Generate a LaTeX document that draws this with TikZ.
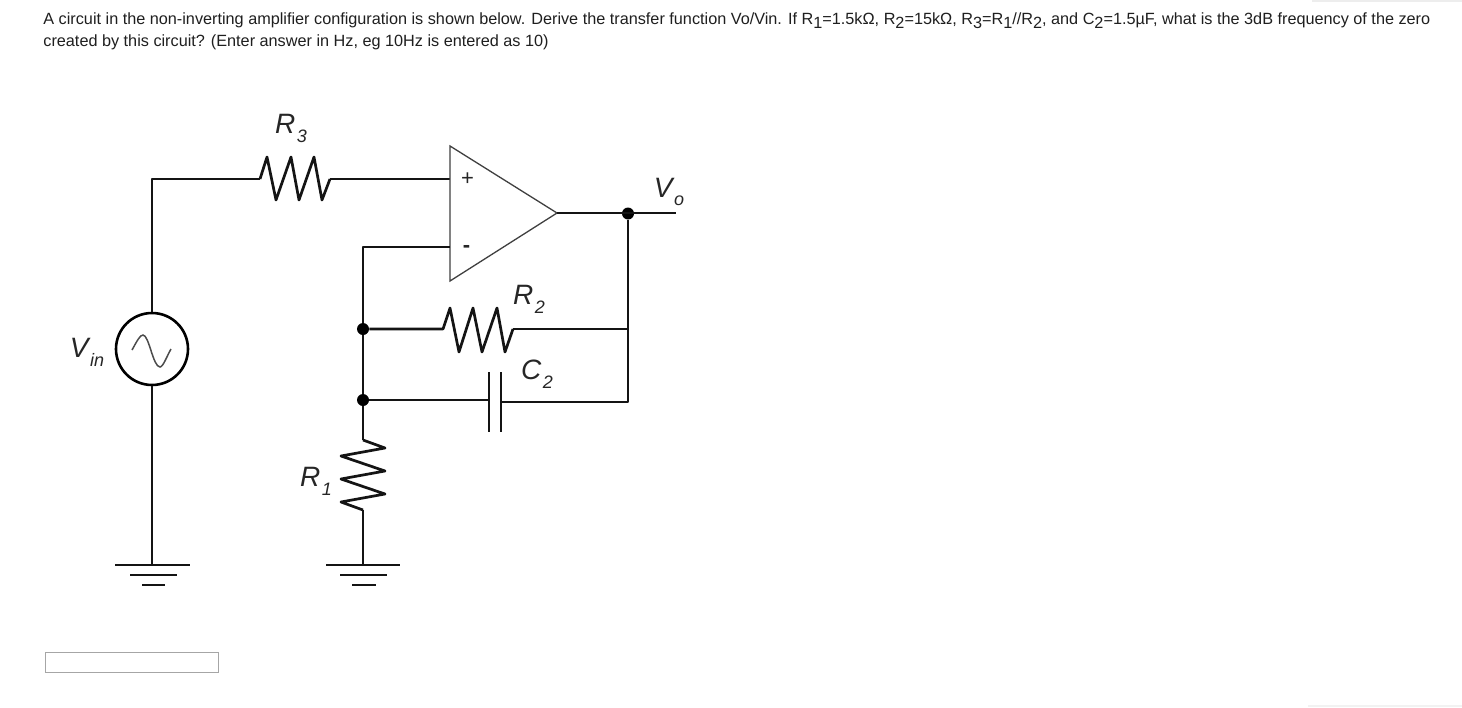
\documentclass[tikz,border=0pt]{standalone}
\usepackage{fontspec}
\setmainfont{Liberation Sans}
\newcommand{\circlbl}[3][-0.32em]{{\fontsize{14}{14}\selectfont\itshape #2\kern0.06em\raisebox{#1}{\fontsize{9}{9}\selectfont #3}}}
\newcommand{\qs}[1]{\raisebox{-0.25em}{#1}}
\tikzset{
  wire/.style={line width=1.35pt,color=black!92,line join=round},
  thin wire/.style={line width=0.65pt,color=black!75,line join=miter},
  junction/.style={circle,fill=black,inner sep=0pt,minimum size=6pt},
  para/.style={anchor=base west,inner sep=0pt,font=\fontsize{8.12}{9}\selectfont,text=black!88},
  lbl/.style={inner sep=0pt,text=black!85},
  gnd/.style={line width=1.2pt,color=black!92},
}
\begin{document}
\begin{tikzpicture}[x=0.5pt,y=-0.5pt]
\path[use as bounding box,fill=white] (0,0) rectangle (1462,707);
% page edge shadows
\fill[black!7] (1312,0) rectangle (1462,1.5);
\fill[black!5] (1308,705) rectangle (1462,707);
% question text
\node[para] (line1) at (43,24) {A circuit in the non-inverting amplifier configuration is shown below. Derive the transfer function Vo/Vin. If R\qs{1}=1.5kΩ, R\qs{2}=15kΩ, R\qs{3}=R\qs{1}//R\qs{2}, and C\qs{2}=1.5µF, what is the 3dB frequency of the zero};
\node[para] (line2) at (43,46.5) {created by this circuit? (Enter answer in Hz, eg 10Hz is entered as 10)};
% answer box
\node[draw=black!35,line width=0.5pt,fill=white,minimum width=86.5pt,minimum height=10pt,inner sep=0pt] (answer) at (131.5,662) {};
% key points
\coordinate (corner) at (152,179);
\node[circle,draw=black,line width=1.3pt,minimum size=36pt,inner sep=0pt] (vin) at (152,349) {};
\coordinate (gndA) at (152,565);
\coordinate (gndB) at (363,565);
\coordinate (r3a) at (260,179);
\coordinate (r3b) at (330,179);
\coordinate (plus) at (450,179);
\coordinate (minus) at (450,247);
\coordinate (minusturn) at (363,247);
\coordinate (out) at (557,213);
\coordinate (vo) at (676,213);
\node[junction] (jout) at (628,213.5) {};
\node[junction] (jr2) at (363,329) {};
\node[junction] (jc2) at (363,400) {};
\coordinate (r2a) at (443,329);
\coordinate (r2b) at (513,329);
\coordinate (r2right) at (628,329);
\coordinate (c2a) at (489,400);
\coordinate (c2b) at (501,402);
\coordinate (c2right) at (628,402);
\coordinate (r1a) at (363,440);
\coordinate (r1b) at (363,510);
% source wires
\draw[wire] (vin.north) -- (corner) -- (r3a);
\draw[wire] (vin.south) -- (gndA);
\draw[line width=0.75pt,color=black!70] (132,350) .. controls (137,341) and (140,335) .. (143,335) .. controls (149,335) and (153,367) .. (160,367) .. controls (163,367) and (167,356) .. (171,349);
% R3
\draw[wire] (r3a) -- ++(7,-22) -- ++(9,43) -- ++(15,-43) -- ++(8,43) -- ++(15,-43) -- ++(8,43) -- (r3b);
\draw[wire] (r3b) -- (plus);
% op-amp
\draw[thin wire] (450,146) coordinate (oa1) -- (out) -- (450,281) coordinate (oa2) -- cycle;
\node[lbl,font=\fontsize{11}{11}\selectfont] (oaplus) at (467.5,179.5) {+};
\node[lbl,font=\fontsize{11}{11}\selectfont\bfseries] (oaminus) at (466.5,248.5) {-};
% output
\draw[wire] (out) -- (vo);
\draw[wire] (jout) -- (c2right) -- (c2b);
\draw[wire,line width=1pt] (r2b) -- (r2right);
% inverting node
\draw[wire] (minus) -- (minusturn) -- (jr2) -- (jc2) -- (r1a);
% R2
\draw[wire] (jr2) -- (r2a) -- ++(7,-21) -- ++(9,44) -- ++(14,-44) -- ++(9,44) -- ++(15,-44) -- ++(8,44) -- (r2b);
% C2
\draw[wire] (jc2) -- (c2a);
\draw[wire] (489,372) -- (489,432);
\draw[wire] (501,372) -- (501,432);
% R1
\draw[wire] (r1a) -- ++(22,8) -- ++(-44,8) -- ++(44,15) -- ++(-44,8) -- ++(44,15) -- ++(-44,8) -- (r1b);
\draw[wire] (r1b) -- (gndB);
% grounds
\draw[gnd] (115,565) -- (190,565) (130,575) -- (177,575) (142,585) -- (165,585);
\draw[gnd] (326,565) -- (400,565) (340,575) -- (387,575) (352,585) -- (376,585);
% labels
\node[lbl] (lr3) at (291,128) {\circlbl{R}{3}};
\node[lbl] (lr2) at (529,299) {\circlbl{R}{2}};
\node[lbl] (lc2) at (537,374) {\circlbl{C}{2}};
\node[lbl] (lr1) at (316,481) {\circlbl{R}{1}};
\node[lbl] (lvo) at (669,192) {\circlbl[-0.3em]{V}{o}};
\node[lbl] (lvin) at (87,352) {\circlbl{V}{in}};
\end{tikzpicture}
\end{document}
